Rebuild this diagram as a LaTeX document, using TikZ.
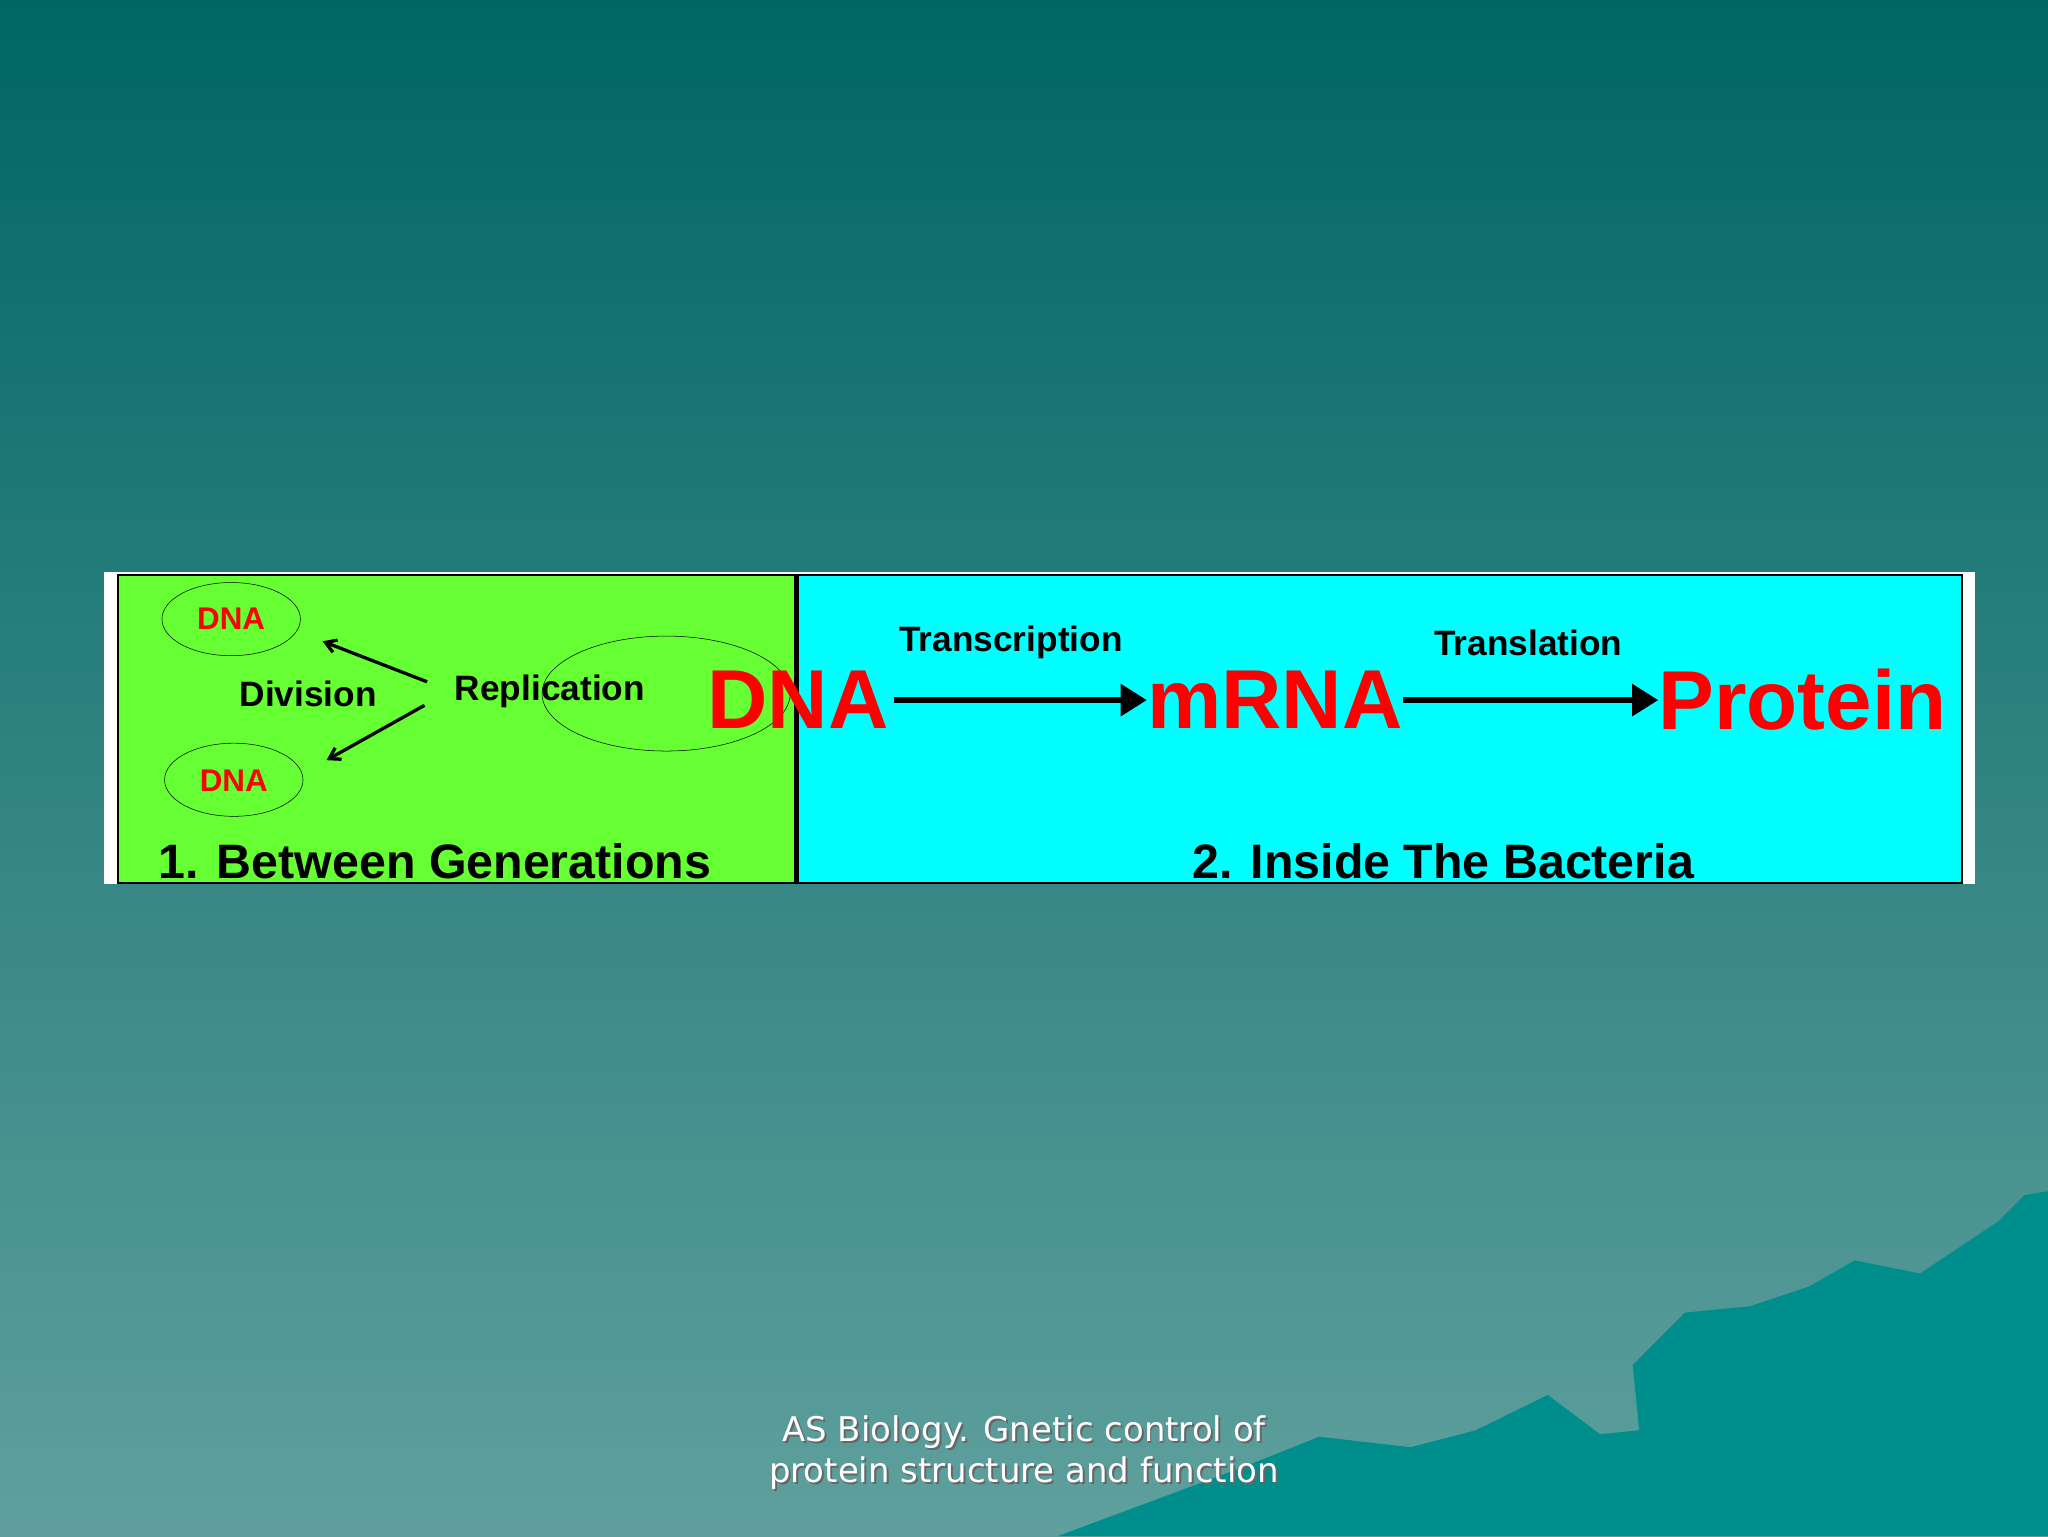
\documentclass[tikz,border=0pt]{standalone}
\usepackage{fontspec}
\setmainfont{Liberation Sans}
\newfontfamily\foot{DejaVu Sans}
\usetikzlibrary{arrows.meta,shapes.geometric}
\definecolor{bgtop}{RGB}{0,102,100}
\definecolor{bgbot}{RGB}{95,160,158}
\definecolor{mount}{RGB}{0,142,140}
\definecolor{gpanel}{RGB}{102,255,51}
\definecolor{cpanel}{RGB}{0,255,255}
\definecolor{dnared}{RGB}{255,0,0}
\begin{document}
\begin{tikzpicture}[x=1pt,y=-1pt,
  lbl/.style={font=\bfseries\fontsize{27}{30}\selectfont,inner sep=0},
  big/.style={font=\bfseries\fontsize{64}{70}\selectfont,text=dnared,inner sep=0},
  small/.style={font=\fontsize{24}{26}\selectfont,text=dnared,inner sep=0},
  captxt/.style={font=\bfseries\fontsize{37}{40}\selectfont,inner sep=0},
  arr/.style={line width=4pt,-{Triangle[length=20pt,width=24pt]}},
  darr/.style={line width=2.5pt,-{Straight Barb[length=8pt,width=10pt]}},
  ell/.style={draw,thin,ellipse}]
\useasboundingbox (0,0) rectangle (1568,1176);
\shade[top color=bgtop,bottom color=bgbot] (0,0) rectangle (1568,1176);
\fill[mount] (810,1176) -- (880,1150) -- (960,1120) -- (1010,1100) -- (1080,1108) -- (1130,1095) -- (1185,1068) -- (1225,1098) -- (1255,1095) -- (1250,1045) -- (1290,1005) -- (1340,1000) -- (1385,985) -- (1420,965) -- (1470,975) -- (1500,955) -- (1530,935) -- (1550,915) -- (1568,912) -- (1568,1176) -- cycle;
% panel
\fill[white] (80,438) rectangle (1512,677);
\fill[gpanel] (90,440) rectangle (610,676);
\fill[cpanel] (612,440) rectangle (1502,676);
\draw[line width=1.5pt] (90,440) rectangle (1502,676);
\draw[line width=4pt] (610,440) -- (610,676);
% left
\node[ell,minimum width=106,minimum height=56] (e1) at (177,474) {};
\node[ell,minimum width=106,minimum height=56] (e2) at (179,597) {};
\node[small] (d1) at (177,474) {\bfseries DNA};
\node[small] (d2) at (179,598) {\bfseries DNA};
\node[lbl] (div) at (236,531) {Division};
\node[lbl] (rep) at (421,529) {Replication};
\node[ell,minimum width=190,minimum height=88] (e3) at (510,531) {};
\coordinate (s1) at (327,522);
\coordinate (t1) at (247,491);
\coordinate (s2) at (325,540);
\coordinate (t2) at (250,582);
\draw[darr] (s1) -- (t1);
\draw[darr] (s2) -- (t2);
% right
\node[big] (dna) at (611,536) {DNA};
\node[big] (mrna) at (976,536) {mRNA};
\node[big] (prot) at (1380,536) {Protein};
\node[lbl] (tc) at (774,492) {Transcription};
\node[lbl] (tl) at (1170,492) {Translation};
\draw[arr] (dna.east) ++(4,0) -- (mrna.west);
\draw[arr] (mrna.east) -- (prot.west);
\node[captxt] (c1) at (333,659) {1. Between Generations};
\node[captxt] (c2) at (1105,659) {2. Inside The Bacteria};
% footer
\node[font=\foot\fontsize{26}{31}\selectfont,text=black!60,align=center] (fs) at (785.5,1113.5) {AS Biology. Gnetic control of\\protein structure and function};
\node[font=\foot\fontsize{26}{31}\selectfont,text=white,align=center] (ft) at (784,1112) {AS Biology. Gnetic control of\\protein structure and function};
\end{tikzpicture}
\end{document}
